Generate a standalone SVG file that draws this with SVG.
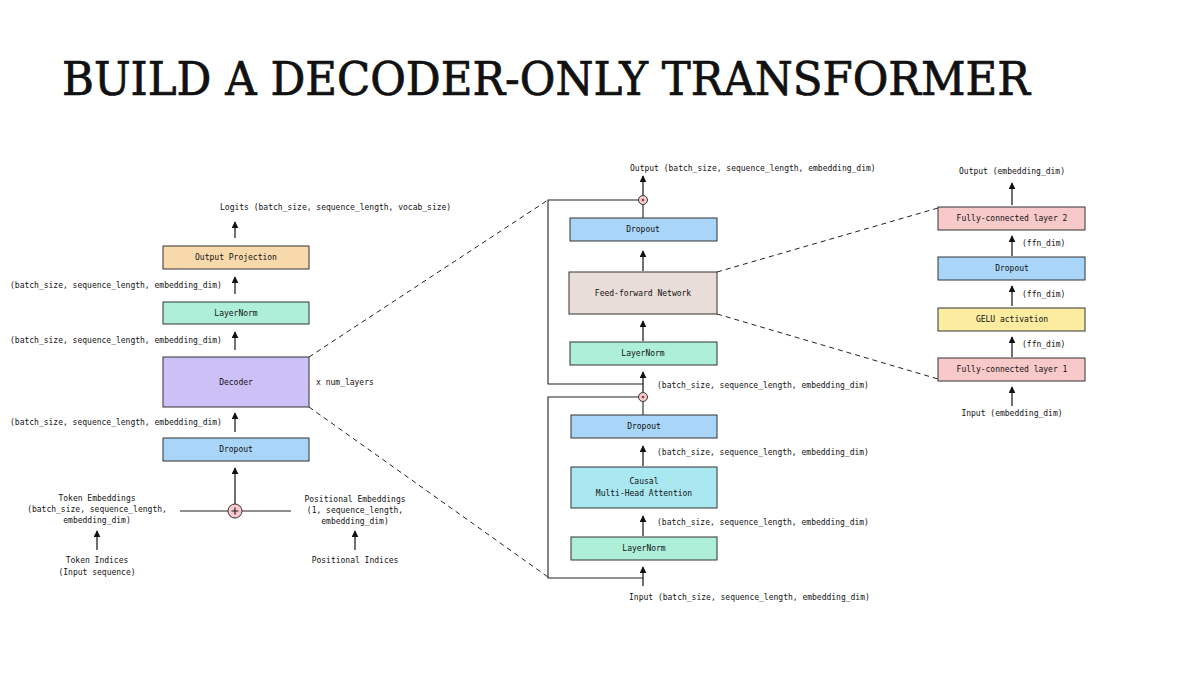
<svg xmlns="http://www.w3.org/2000/svg" width="1200" height="675" viewBox="0 0 1200 675">
<defs>
<marker id="ah" viewBox="0 0 10 10" refX="9" refY="5" markerWidth="7" markerHeight="7" markerUnits="userSpaceOnUse" orient="auto">
<path d="M0,0 L10,5 L0,10 z" fill="#111"/>
</marker>
<style>
.t{font-family:"DejaVu Sans Mono","Liberation Mono",monospace;font-size:8px;fill:#111}
.c{text-anchor:middle}
.box{stroke:#333;stroke-width:1}
.ar{stroke:#222;stroke-width:1.3;fill:none;marker-end:url(#ah)}
.ln{stroke:#222;stroke-width:1.1;fill:none}
.dash{stroke:#222;stroke-width:1;fill:none;stroke-dasharray:5,4}
.plus{fill:#f8c9cd;stroke:#333;stroke-width:1}
</style>
</defs>
<rect width="1200" height="675" fill="#fff"/>
<text x="62" y="95" font-family="DejaVu Serif" font-size="47" font-stretch="condensed" textLength="968" lengthAdjust="spacingAndGlyphs" fill="#111" stroke="#111" stroke-width="0.7">BUILD A DECODER-ONLY TRANSFORMER</text>

<g id="connectors">
<line class="ar" x1="235" y1="238" x2="235" y2="222"/>
<line class="ar" x1="235" y1="294" x2="235" y2="277"/>
<line class="ar" x1="235" y1="350" x2="235" y2="332"/>
<line class="ar" x1="235" y1="432" x2="235" y2="413"/>
<line class="ar" x1="235" y1="504" x2="235" y2="468"/>
<line class="ln" x1="180" y1="511" x2="228" y2="511"/>
<line class="ln" x1="242" y1="511" x2="291" y2="511"/>
<line class="ar" x1="97" y1="550" x2="97" y2="531"/>
<line class="ar" x1="355" y1="550" x2="355" y2="531"/>
<line class="dash" x1="309" y1="357" x2="548" y2="200"/>
<line class="dash" x1="309" y1="407" x2="548" y2="577"/>
<line class="ar" x1="643" y1="195" x2="643" y2="176"/>
<line class="ln" x1="643" y1="218" x2="643" y2="205"/>
<polyline class="ln" points="638,200 548,200 548,384 643,384"/>
<line class="ar" x1="643" y1="271" x2="643" y2="251"/>
<line class="ar" x1="643" y1="341" x2="643" y2="321"/>
<line class="ar" x1="643" y1="392" x2="643" y2="372"/>
<line class="ln" x1="643" y1="415" x2="643" y2="402"/>
<polyline class="ln" points="638,397 548,397 548,578 643,578"/>
<line class="ar" x1="643" y1="466" x2="643" y2="446"/>
<line class="ar" x1="643" y1="536" x2="643" y2="516"/>
<line class="ar" x1="643" y1="586" x2="643" y2="567"/>
<line class="dash" x1="717" y1="272" x2="938" y2="208"/>
<line class="dash" x1="717" y1="314" x2="938" y2="379"/>
<line class="ar" x1="1012" y1="205" x2="1012" y2="183"/>
<line class="ar" x1="1012" y1="256" x2="1012" y2="236"/>
<line class="ar" x1="1012" y1="306" x2="1012" y2="286"/>
<line class="ar" x1="1012" y1="357" x2="1012" y2="337"/>
<line class="ar" x1="1012" y1="406" x2="1012" y2="387"/>
</g>

<g id="left-labels">
<text class="t" x="220" y="210">Logits (batch_size, sequence_length, vocab_size)</text>
<text class="t" x="10" y="288">(batch_size, sequence_length, embedding_dim)</text>
<text class="t" x="10" y="343">(batch_size, sequence_length, embedding_dim)</text>
<text class="t" x="10" y="425">(batch_size, sequence_length, embedding_dim)</text>
<text class="t" x="316" y="385">x num_layers</text>
</g>
<g id="output-projection"><rect class="box" x="163" y="246" width="146" height="23" fill="#f8d9ab"/><text class="t c" x="236" y="260">Output Projection</text></g>
<g id="layernorm-final"><rect class="box" x="163" y="302" width="146" height="22" fill="#aeefd9"/><text class="t c" x="236" y="316">LayerNorm</text></g>
<g id="decoder"><rect class="box" x="163" y="357" width="146" height="50" fill="#cdc0f7"/><text class="t c" x="236" y="385">Decoder</text></g>
<g id="dropout-emb"><rect class="box" x="163" y="438" width="146" height="23" fill="#a9d5f8"/><text class="t c" x="236" y="452">Dropout</text></g>
<g id="add-emb"><circle class="plus" cx="235" cy="511" r="7"/><path d="M231.5,511 h7 M235,507.5 v7" stroke="#222" stroke-width="1.2"/></g>
<g id="token-emb"><text class="t c" x="97" y="501">Token Embeddings</text><text class="t c" x="97" y="512">(batch_size, sequence_length,</text><text class="t c" x="97" y="523">embedding_dim)</text></g>
<g id="token-idx"><text class="t c" x="97" y="563">Token Indices</text><text class="t c" x="97" y="575">(Input sequence)</text></g>
<g id="pos-emb"><text class="t c" x="355" y="502">Positional Embeddings</text><text class="t c" x="355" y="513">(1, sequence_length,</text><text class="t c" x="355" y="524">embedding_dim)</text></g>
<g id="pos-idx"><text class="t c" x="355" y="563">Positional Indices</text></g>

<g id="middle-labels">
<text class="t" x="630" y="171">Output (batch_size, sequence_length, embedding_dim)</text>
<text class="t" x="657" y="388">(batch_size, sequence_length, embedding_dim)</text>
<text class="t" x="657" y="455">(batch_size, sequence_length, embedding_dim)</text>
<text class="t" x="657" y="525">(batch_size, sequence_length, embedding_dim)</text>
<text class="t" x="629" y="600">Input (batch_size, sequence_length, embedding_dim)</text>
</g>
<g id="add-ffn"><circle class="plus" cx="643" cy="200" r="4.5"/><circle cx="643" cy="200" r="1.3" fill="#a33"/></g>
<g id="dropout-ffn"><rect class="box" x="570" y="218" width="147" height="23" fill="#a9d5f8"/><text class="t c" x="643" y="232">Dropout</text></g>
<g id="ffn"><rect class="box" x="569" y="272" width="148" height="42" fill="#e9ddd8"/><text class="t c" x="643" y="296">Feed-forward Network</text></g>
<g id="layernorm-2"><rect class="box" x="570" y="342" width="147" height="23" fill="#aeefd9"/><text class="t c" x="643" y="356">LayerNorm</text></g>
<g id="add-attn"><circle class="plus" cx="643" cy="397" r="4.5"/><circle cx="643" cy="397" r="1.3" fill="#a33"/></g>
<g id="dropout-attn"><rect class="box" x="571" y="415" width="146" height="23" fill="#a9d5f8"/><text class="t c" x="644" y="429">Dropout</text></g>
<g id="mha"><rect class="box" x="571" y="467" width="146" height="41" fill="#a9e7f1"/><text class="t c" x="644" y="484">Causal</text><text class="t c" x="644" y="496">Multi-Head Attention</text></g>
<g id="layernorm-1"><rect class="box" x="571" y="537" width="146" height="23" fill="#aeefd9"/><text class="t c" x="644" y="551">LayerNorm</text></g>

<g id="right-labels">
<text class="t c" x="1012" y="174">Output (embedding_dim)</text>
<text class="t" x="1022" y="246">(ffn_dim)</text>
<text class="t" x="1022" y="297">(ffn_dim)</text>
<text class="t" x="1022" y="347">(ffn_dim)</text>
<text class="t c" x="1012" y="416">Input (embedding_dim)</text>
</g>
<g id="fc2"><rect class="box" x="938" y="207" width="147" height="23" fill="#f8c9c9"/><text class="t c" x="1012" y="221">Fully-connected layer 2</text></g>
<g id="dropout-fc"><rect class="box" x="938" y="257" width="147" height="23" fill="#a9d5f8"/><text class="t c" x="1012" y="271">Dropout</text></g>
<g id="gelu"><rect class="box" x="938" y="308" width="147" height="23" fill="#fbeca0"/><text class="t c" x="1012" y="322">GELU activation</text></g>
<g id="fc1"><rect class="box" x="938" y="358" width="147" height="23" fill="#f8c9c9"/><text class="t c" x="1012" y="372">Fully-connected layer 1</text></g>
</svg>
